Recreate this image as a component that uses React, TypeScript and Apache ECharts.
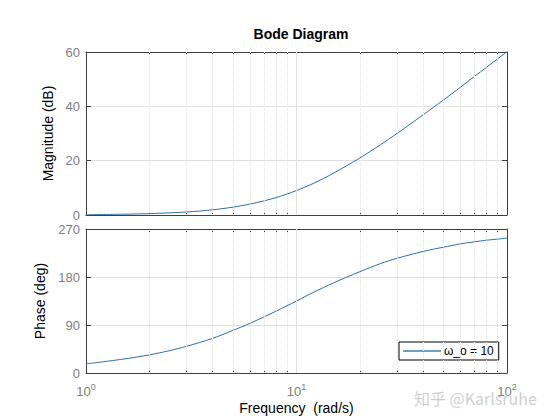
import React, { useEffect, useRef } from "react";
import * as echarts from "echarts";

const freqs = [1, 1.5, 2, 2.5, 3, 4, 5, 6, 7, 8, 9, 10, 12, 15, 20, 25, 30, 40, 50, 60, 70, 80, 90, 100];
const magnitudeDb = [0.1, 0.3, 0.5, 0.8, 1.1, 1.9, 2.9, 4.0, 5.2, 6.4, 7.7, 9.0, 11.6, 15.4, 21.0, 25.8, 30.0, 36.9, 42.4, 47.0, 51.0, 54.4, 57.4, 60.1];
const phaseDeg = [17, 26, 34, 42, 50, 65, 80, 93, 105, 116, 126, 135, 151, 169, 190, 205, 215, 228, 236, 242, 246, 249, 251, 253];
const minorFreqs = [2, 3, 4, 5, 6, 7, 8, 9, 20, 30, 40, 50, 60, 70, 80, 90];
const tickFreqs = [1, 2, 3, 4, 5, 6, 7, 8, 9, 10, 20, 30, 40, 50, 60, 70, 80, 90, 100];
const magTicks = [0, 20, 40, 60];
const phaseTicks = [0, 90, 180, 270];
const seriesName = "ω_o = 10";

const FONT = "'Liberation Sans', Arial, Helvetica, sans-serif";
const LINE_COLOR = "#2a72a8";
const AXIS_COLOR = "#404040";
const LABEL_COLOR = "#808080";
const GRID_COLOR = "#e0e0e0";

export default function App() {
  const ref = useRef<HTMLDivElement>(null);

  useEffect(() => {
    if (!ref.current) return;
    const chart = echarts.init(ref.current, null, { renderer: "svg" });

    const gridLeft = 86;
    const gridRight = 53;

    const xBase = (gridIndex: number, showLabels: boolean, position: "bottom" | "top") => ({
      type: "log",
      logBase: 10,
      min: 1,
      max: 100,
      gridIndex,
      position,
      axisLine: { show: true, onZero: false, lineStyle: { color: AXIS_COLOR, width: 1 } },
      axisTick: { show: true, inside: true, length: 3, customValues: tickFreqs, lineStyle: { color: AXIS_COLOR } },
      axisLabel: {
        show: showLabels,
        color: LABEL_COLOR,
        fontFamily: FONT,
        margin: 9,
        formatter: (v: number) => `{b|10}{s|${Math.round(Math.log10(v))}}`,
        rich: {
          b: { fontSize: 13, color: LABEL_COLOR, fontFamily: FONT },
          s: { fontSize: 9, color: LABEL_COLOR, fontFamily: FONT, padding: [0, 0, 9, 0] },
        },
      },
      splitLine: { show: false },
    });

    const yBase = (gridIndex: number, ticks: number[], position: "left" | "right", showLabels: boolean, name?: string, nameGap?: number) => ({
      type: "value",
      gridIndex,
      position,
      min: ticks[0],
      max: ticks[ticks.length - 1],
      interval: ticks[1] - ticks[0],
      name: name ?? "",
      nameLocation: "middle",
      nameGap: nameGap ?? 0,
      nameTextStyle: { color: "#000", fontSize: 14, fontFamily: FONT },
      axisLine: { show: true, lineStyle: { color: AXIS_COLOR, width: 1 } },
      axisTick: { show: true, inside: true, length: 5, lineStyle: { color: AXIS_COLOR } },
      axisLabel: { show: showLabels, color: LABEL_COLOR, fontSize: 13, fontFamily: FONT, margin: 6 },
      splitLine: { show: position === "left", lineStyle: { color: GRID_COLOR, width: 1 } },
    });

    const minorLines = {
      silent: true,
      symbol: "none",
      label: { show: false },
      lineStyle: { color: GRID_COLOR, type: "dotted", width: 1 },
      data: minorFreqs.map((f) => ({ xAxis: f })),
    };
    const majorLines = {
      silent: true,
      symbol: "none",
      label: { show: false },
      lineStyle: { color: GRID_COLOR, type: "solid", width: 1 },
      data: [{ xAxis: 10 }],
    };

    chart.setOption({
      animation: false,
      backgroundColor: "#fff",
      title: {
        text: "Bode Diagram",
        left: 296,
        top: 22,
        textAlign: "center",
        textStyle: { fontSize: 14, fontWeight: "bold", color: "#000", fontFamily: FONT },
      },
      grid: [
        { left: gridLeft, right: gridRight, top: 52, height: 163 },
        { left: gridLeft, right: gridRight, top: 229, height: 144 },
      ],
      xAxis: [
        xBase(0, false, "bottom"),
        { ...xBase(0, false, "top") },
        {
          ...xBase(1, true, "bottom"),
          name: "Frequency  (rad/s)",
          nameLocation: "middle",
          nameGap: 28,
          nameTextStyle: { color: "#000", fontSize: 14, fontFamily: FONT },
        },
        { ...xBase(1, false, "top") },
      ],
      yAxis: [
        yBase(0, magTicks, "left", true, "Magnitude (dB)", 24),
        yBase(0, magTicks, "right", false),
        yBase(1, phaseTicks, "left", true, "Phase (deg)", 31),
        yBase(1, phaseTicks, "right", false),
      ],
      legend: {
        show: true,
        data: [{ name: seriesName, icon: "rect", itemStyle: { color: "#6f9fc4" } }],
        left: 399,
        top: 342,
        orient: "vertical",
        itemWidth: 38,
        itemHeight: 2,
        itemGap: 0,
        padding: [3, 5, 3, 4],
        borderColor: "#000",
        borderWidth: 1,
        borderRadius: 0,
        backgroundColor: "#fff",
        textStyle: { fontSize: 12, color: "#000", fontFamily: FONT, padding: [0, 0, 0, -2] },
      },
      series: [
        {
          name: "mag",
          type: "line",
          xAxisIndex: 0,
          yAxisIndex: 0,
          data: freqs.map((f, i) => [f, magnitudeDb[i]]),
          smooth: 0.3,
          symbol: "none",
          lineStyle: { color: LINE_COLOR, width: 1 },
          itemStyle: { color: LINE_COLOR },
          markLine: minorLines,
          z: 3,
        },
        {
          name: "magMajor",
          type: "line",
          xAxisIndex: 0,
          yAxisIndex: 0,
          data: [],
          markLine: majorLines,
          z: 2,
        },
        {
          name: seriesName,
          type: "line",
          xAxisIndex: 2,
          yAxisIndex: 2,
          data: freqs.map((f, i) => [f, phaseDeg[i]]),
          smooth: 0.3,
          symbol: "none",
          lineStyle: { color: LINE_COLOR, width: 1 },
          itemStyle: { color: LINE_COLOR },
          markLine: minorLines,
          z: 3,
        },
        {
          name: "phaseMajor",
          type: "line",
          xAxisIndex: 2,
          yAxisIndex: 2,
          data: [],
          markLine: majorLines,
          z: 2,
        },
      ],
      graphic: [
        {
          type: "text",
          left: 414,
          top: 390,
          z: 100,
          style: {
            text: "知乎 @Karlsruhe",
            fill: "rgba(190,190,190,0.75)",
            fontSize: 16,
            fontFamily: "'Noto Sans CJK SC', 'Liberation Sans', sans-serif",
          },
        },
      ],
    });

    return () => chart.dispose();
  }, []);

  return (
    <div
      ref={ref}
      style={{ position: "fixed", left: 0, top: 0, width: 560, height: 420, background: "#fff" }}
    />
  );
}
